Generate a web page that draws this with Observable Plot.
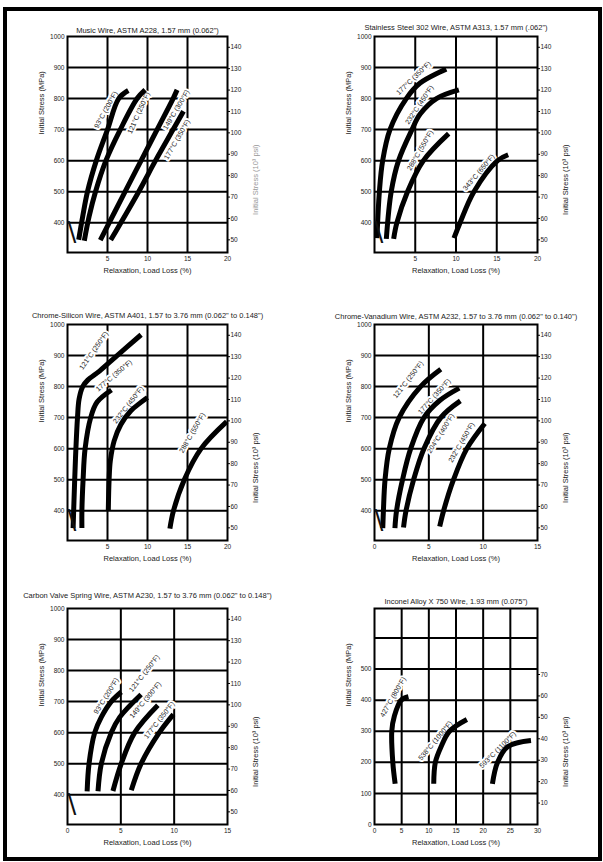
<!DOCTYPE html>
<html><head><meta charset="utf-8">
<script src="https://cdn.jsdelivr.net/npm/d3@7"></script>
<script src="https://cdn.jsdelivr.net/npm/@observablehq/plot@0.6"></script>
<style>
body{margin:0;background:#fff;}
#page{position:relative;width:603px;height:862px;overflow:hidden;font-family:"Liberation Sans",Arial,sans-serif;background:#fff;}
#border{position:absolute;left:3px;top:7px;width:599px;height:854px;border:4px solid #000;box-sizing:border-box;}
.panel{position:absolute;}
</style></head><body><div id="page"><div id="border"></div></div>
<script>
const KSI = 6.894757; // MPa per ksi

const panelTitles = [
  'Music Wire, ASTM A228, 1.57 mm (0.062")',
  'Stainless Steel 302 Wire, ASTM A313, 1.57 mm (.062")',
  'Chrome-Silicon Wire, ASTM A401, 1.57 to 3.76 mm (0.062" to 0.148")',
  'Chrome-Vanadium Wire, ASTM A232, 1.57 to 3.76 mm (0.062" to 0.140")',
  'Carbon Valve Spring Wire, ASTM A230, 1.57 to 3.76 mm (0.062" to 0.148")',
  'Inconel Alloy X 750 Wire, 1.93 mm (0.075")'
];
const xDomains = [[0,20],[0,20],[0,20],[0,15],[0,15],[0,30]];
const yDomains = [[304,1000],[304,1000],[304,1000],[304,1000],[304,1000],[0,695]];
const xTickLabels = [[5,10,15,20],[5,10,15,20],[5,10,15,20],[0,5,10,15],[0,5,10,15],[0,5,10,15,20,25,30]];
const yTickLabels = [
  [400,500,600,700,800,900,1000],[400,500,600,700,800,900,1000],[400,500,600,700,800,900,1000],
  [400,500,600,700,800,900,1000],[400,500,600,700,800,900,1000],[0,100,200,300,400,500]
];
const ksiTickLabels = [
  [50,60,70,80,90,100,110,120,130,140],[50,60,70,80,90,100,110,120,130,140],[50,60,70,80,90,100,110,120,130,140],
  [50,60,70,80,90,100,110,120,130,140],[50,60,70,80,90,100,110,120,130,140],[10,20,30,40,50,60,70]
];
const xGridValues = [[5,10,15],[5,10,15],[5,10,15],[5,10],[5,10],[5,10,15,20,25]];
const yGridValues = [
  [400,500,600,700,800,900],[400,500,600,700,800,900],[400,500,600,700,800,900],
  [400,500,600,700,800,900],[400,500,600,700,800,900],[100,200,300,400,500,600]
];
const hasBreak = [true,true,true,true,true,false];
const titleGap = [4,7,7,6,11,5];

// Curves: [temperature, [[loss %, initial stress MPa], ...]]
const curvesMusic = [
  ["93°C (200°F)",  [[1.4,345],[1.9,420],[2.5,500],[3.6,600],[5.0,700],[6.4,800],[7.6,826]]],
  ["121°C (250°F)", [[2.1,342],[2.7,420],[3.5,500],[4.8,600],[6.6,700],[8.7,800],[9.7,828]]],
  ["149°C (300°F)", [[4.1,344],[7.2,500],[9.2,600],[11.2,700],[13.2,800],[13.7,828]]],
  ["177°C (350°F)", [[5.4,344],[8.9,500],[11.0,600],[13.2,700],[14.5,759]]]
];
const curvesStainless = [
  ["177°C (350°F)", [[0.3,350],[0.6,500],[1.0,600],[1.9,700],[3.9,800],[5.6,850],[8.8,895]]],
  ["232°C (450°F)", [[1.45,348],[2.05,500],[2.95,600],[4.6,700],[5.6,750],[7.6,800],[10.35,828]]],
  ["288°C (550°F)", [[2.35,348],[2.75,400],[4.05,500],[6.0,600],[9.1,687]]],
  ["343°C (650°F)", [[9.75,350],[10.5,400],[12.2,500],[15.1,600],[16.4,619]]]
];
const curvesChromeSilicon = [
  ["121°C (250°F)", [[0.7,344],[0.9,500],[1.05,600],[1.25,700],[1.45,760],[1.9,800],[2.5,820],[4.0,850],[6.2,900],[9.2,967]]],
  ["177°C (350°F)", [[1.8,344],[1.8,400],[1.95,500],[2.2,600],[2.9,700],[3.7,750],[5.5,789]]],
  ["232°C (450°F)", [[5.1,400],[5.2,500],[5.35,560],[5.83,625],[6.67,678],[7.92,722],[9.17,749],[10.0,765]]],
  ["288°C (550°F)", [[12.8,342],[13.25,400],[14.6,500],[16.7,600],[19.9,687]]]
];
const curvesChromeVanadium = [
  ["121°C (250°F)", [[0.76,344],[0.82,400],[0.97,500],[1.36,600],[2.27,700],[4.24,800],[6.1,856]]],
  ["177°C (350°F)", [[1.88,344],[2.03,400],[2.58,500],[3.33,600],[4.55,700],[6.0,755],[7.8,795]]],
  ["204°C (400°F)", [[2.67,346],[2.9,400],[3.6,500],[4.55,600],[6.1,700],[7.9,754]]],
  ["232°C (450°F)", [[6.0,349],[6.36,400],[7.27,500],[8.5,600],[10.15,681]]]
];
const curvesCarbonValve = [
  ["93°C (200°F)",  [[1.84,411],[2.02,500],[2.55,600],[3.17,650],[4.1,700],[5.04,731]]],
  ["121°C (250°F)", [[2.86,411],[3.17,500],[4.1,600],[4.9,650],[6.9,723]]],
  ["149°C (300°F)", [[4.26,412],[5.04,500],[6.3,600],[8.47,688]]],
  ["177°C (350°F)", [[5.98,414],[6.9,500],[8.6,600],[9.93,659]]]
];
const curvesInconel = [
  ["427°C (800°F)",  [[3.8,131],[3.37,200],[3.18,300],[3.67,350],[4.9,400],[6.25,411]]],
  ["538°C (1000°F)", [[10.9,131],[11.2,200],[12.25,250],[13.8,300],[17.0,338]]],
  ["593°C (1100°F)", [[21.7,131],[22.65,200],[24.5,250],[28.8,270]]]
];

// Curve label anchors: [text, loss %, stress MPa, angle]
const labelsMusic = [["93°C (200°F)",4.8,764,-61],["121°C (250°F)",8.9,754,-66],["149°C (300°F)",13.6,764,-59],["177°C (350°F)",13.7,668,-60]];
const labelsStainless = [["177°C (350°F)",4.8,866,-44],["232°C (450°F)",5.5,780,-56],["288°C (550°F)",5.6,633,-60],["343°C (650°F)",12.8,562,-50]];
const labelsChromeSilicon = [["121°C (250°F)",3.3,916,-55],["177°C (350°F)",5.8,835,-40],["232°C (450°F)",7.6,741,-52],["288°C (550°F)",15.6,651,-60]];
const labelsChromeVanadium = [["121°C (250°F)",3.1,822,-52],["177°C (350°F)",5.5,768,-48],["204°C (400°F)",6.1,649,-58],["232°C (450°F)",8.0,620,-60]];
const labelsCarbonValve = [["93°C (200°F)",3.64,718,-58],["121°C (250°F)",7.2,791,-52],["149°C (300°F)",7.3,705,-50],["177°C (350°F)",8.6,640,-52]];
const labelsInconel = [["427°C (800°F)",3.4,410,-60],["538°C (1000°F)",11.2,270,-50],["593°C (1100°F)",22.7,240,-45]];

const allCurves = [curvesMusic, curvesStainless, curvesChromeSilicon, curvesChromeVanadium, curvesCarbonValve, curvesInconel];
const allLabels = [labelsMusic, labelsStainless, labelsChromeSilicon, labelsChromeVanadium, labelsCarbonValve, labelsInconel];

const FONT = '"Liberation Sans", Arial, sans-serif';
const ink = "#1a1a1a";
const page = document.getElementById("page");

for (let i = 0; i < 6; i++) {
  const col = i % 2, row = Math.floor(i / 2);
  const left = col === 0 ? 0 : 300;
  const top = [0, 288, 572][row];
  const width = col === 0 ? 300 : 303;
  const mL = col === 0 ? 67 : 74;
  const mR = col === 0 ? 73 : 66;
  const rows = allCurves[i].flatMap(([t, pts]) => pts.map(([x, y]) => ({t, x, y})));
  const marks = [
    Plot.gridX(xGridValues[i], {stroke: "#000", strokeOpacity: 1, strokeWidth: 2}),
    Plot.gridY(yGridValues[i], {stroke: "#000", strokeOpacity: 1, strokeWidth: 2}),
    Plot.text(allLabels[i], {x: d => d[1], y: d => d[2], text: d => d[0], rotate: d => d[3],
      fontSize: 7, fill: ink, stroke: "white", strokeWidth: 4, fontFamily: FONT}),
    Plot.frame({stroke: "#000", strokeWidth: 2}),
    Plot.line(rows, {x: "x", y: "y", z: "t", curve: "catmull-rom", stroke: "#000", strokeWidth: 5, strokeLinecap: "butt"}),
    Plot.axisX(xTickLabels[i], {tickSize: 0, tickPadding: 4, fontSize: 6.5, fill: ink, label: null, tickFormat: d => String(d)}),
    Plot.axisY(yTickLabels[i], {anchor: "left", tickSize: 0, tickPadding: 3, fontSize: 6.5, fill: ink, label: null, tickFormat: d => String(d)}),
    Plot.axisY(ksiTickLabels[i].map(k => k * KSI), {anchor: "right", tickSize: 2, tickPadding: 1, fontSize: 6.5, fill: ink,
      tickFormat: d => String(Math.round(d / KSI)), label: null}),
    Plot.text([panelTitles[i]], {frameAnchor: "top", lineAnchor: "bottom", dy: -titleGap[i], fontSize: 7.5, fill: ink, fontFamily: FONT}),
    Plot.text(["Relaxation, Load Loss (%)"], {frameAnchor: "bottom", lineAnchor: "bottom", dy: 20, fontSize: 7.5, fill: ink, fontFamily: FONT}),
    Plot.text(["Initial Stress (MPa)"], {frameAnchor: "left", rotate: -90, dx: -26, dy: -10, fontSize: 7.5, fill: ink, fontFamily: FONT}),
    Plot.text(["Initial Stress (10³ psi)"], {frameAnchor: "right", rotate: -90, dx: 28, fontSize: 7.5, fill: i === 0 ? "#999" : ink, fontFamily: FONT})
  ];
  if (hasBreak[i]) {
    marks.push(Plot.text(["\\"], {frameAnchor: "bottom-left", dy: -12, fontSize: 26, fill: "#111", fontFamily: "DejaVu Sans"}));
  }
  const svg = Plot.plot({
    width, height: 288,
    marginLeft: mL, marginRight: mR, marginTop: 36, marginBottom: 36,
    x: {domain: xDomains[i]},
    y: {domain: yDomains[i]},
    style: {fontFamily: FONT, overflow: "visible", maxWidth: "none", background: "transparent"},
    marks
  });
  const div = document.createElement("div");
  div.className = "panel";
  div.style.left = left + "px";
  div.style.top = top + "px";
  div.style.width = width + "px";
  div.appendChild(svg);
  page.appendChild(div);
}
</script></body></html>
